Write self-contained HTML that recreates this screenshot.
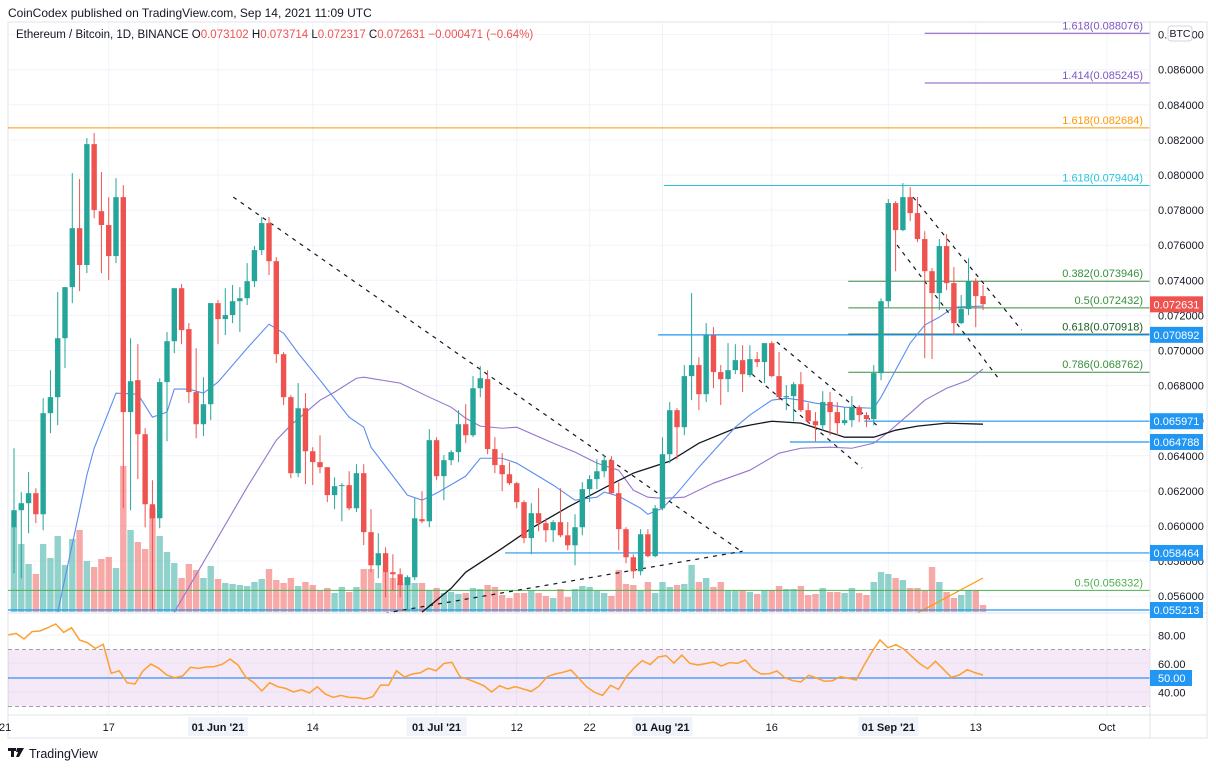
<!DOCTYPE html>
<html><head><meta charset="utf-8"><style>
body{margin:0;background:#fff;font-family:"Liberation Sans",sans-serif;}
svg{display:block}
text{font-family:"Liberation Sans",sans-serif;}
</style></head><body>
<svg id="c" width="1216" height="768" viewBox="0 0 1216 768" xmlns="http://www.w3.org/2000/svg">
<defs>
<clipPath id="pc"><rect x="8" y="22" width="1142" height="591"/></clipPath>
<clipPath id="rc"><rect x="8" y="614" width="1142" height="101"/></clipPath>
</defs>
<text x="8" y="17" font-size="12" fill="#131722">CoinCodex published on TradingView.com, Sep 14, 2021 11:09 UTC</text>
<rect x="8" y="22" width="1199" height="716" fill="none" stroke="#e0e3eb"/>
<g id="grid"></g>
<g id="pane" clip-path="url(#pc)"></g>
<g id="rsi" clip-path="url(#rc)"></g>
<g id="axes"></g>
<text x="16" y="38" font-size="11.5" fill="#131722">Ethereum / Bitcoin, 1D, BINANCE  <tspan>O</tspan><tspan fill="#ef5350">0.073102</tspan>  H<tspan fill="#ef5350">0.073714</tspan>  L<tspan fill="#ef5350">0.072317</tspan>  C<tspan fill="#ef5350">0.072631  −0.000471 (−0.64%)</tspan></text>
<g>
<rect x="8" y="748" width="8" height="3" fill="#131722"/>
<rect x="11" y="748" width="3" height="9" fill="#131722"/>
<polygon points="17,748 24,748 19,757 16,757 18,752 16,752" fill="#131722"/>
</g>
<text x="29" y="758" font-size="12.5" fill="#131722">TradingView</text>
</svg>
<script>
// ---- data (prices in mBTC, i.e. x0.001 BTC) ----
const opens=[59.93,60.90,61.30,61.87,60.67,66.43,67.34,70.70,73.61,76.97,74.87,81.76,77.94,77.15,75.38,78.74,66.49,68.31,65.23,61.24,60.44,68.20,70.53,73.55,71.22,67.63,65.80,66.94,72.70,71.79,72.02,72.81,72.98,
73.95,75.72,77.26,75.09,69.79,67.34,63.01,66.71,64.26,63.64,63.35,61.76,62.27,62.33,61.01,63.01,59.65,57.76,58.45,57.37,57.25,56.63,57.08,60.39,60.27,64.89,62.84,63.75,64.21,65.80,65.17,67.85,68.37,64.38,
63.47,62.95,62.44,61.36,59.31,60.73,60.16,59.76,60.22,59.47,58.90,59.93,62.10,62.67,63.12,63.75,61.87,59.82,58.22,57.42,59.53,58.28,61.01,64.09,66.60,65.63,68.54,69.17,67.51,70.87,68.77,68.37,68.88,69.45,
68.60,69.51,69.34,70.42,68.54,67.34,67.40,68.08,66.60,65.97,65.74,67.06,66.49,65.86,66.03,66.77,66.32,66.09,68.71,72.81,78.40,76.86,78.74,77.83,76.35,74.52,73.27,75.95,73.84,71.56,72.36,73.95,73.10];
const highs=[64.43,61.93,63.07,62.15,67.28,68.88,73.33,73.61,80.11,79.77,82.11,82.39,80.17,78.74,79.82,79.42,70.70,70.36,65.57,62.61,68.42,71.05,73.55,73.78,71.56,70.13,68.48,72.70,72.87,73.55,73.73,73.61,74.98,
75.95,77.60,77.60,75.32,69.91,67.46,68.14,67.57,64.49,65.17,63.35,62.78,62.44,63.12,63.52,63.52,60.96,59.59,58.79,58.39,57.59,57.19,61.58,61.98,65.52,65.06,64.04,64.32,66.60,66.94,68.54,69.11,68.88,65.06,
64.15,63.64,62.50,61.47,61.30,62.15,60.44,60.33,62.15,60.22,60.67,62.50,62.89,63.81,64.04,63.98,62.50,59.93,58.39,59.82,59.82,61.19,65.06,67.06,66.71,69.17,73.27,69.62,71.56,71.33,69.17,70.42,70.36,70.30,
70.30,69.91,70.42,70.53,69.91,68.03,68.20,68.77,67.00,66.49,67.68,67.63,67.06,66.77,67.40,66.89,66.49,69.17,72.98,78.63,78.51,79.54,79.31,78.74,76.80,74.69,76.35,76.63,74.75,73.16,75.26,74.12,73.73];
const lows=[57.31,57.02,59.59,60.16,59.76,65.29,65.75,69.00,72.70,73.38,74.41,77.54,74.41,74.01,74.98,61.01,60.90,62.67,59.93,55.20,59.87,64.83,69.85,70.36,67.00,65.00,65.12,66.03,70.36,70.88,71.56,71.05,72.59,
73.61,75.44,74.30,69.28,66.89,62.72,62.78,62.38,62.33,63.01,61.36,60.96,60.27,60.90,60.79,58.91,57.37,57.02,55.94,56.34,55.94,55.20,56.91,60.16,59.93,62.61,61.47,63.47,63.64,64.72,65.06,67.34,64.09,63.01,
61.98,62.33,61.01,59.02,58.39,59.70,59.08,59.08,59.36,58.62,57.76,59.47,61.36,62.10,62.78,61.81,58.62,57.88,57.02,57.19,58.22,58.22,60.90,63.58,63.81,65.17,67.17,66.60,67.06,67.85,66.89,67.63,68.65,67.63,
68.48,69.05,68.14,68.48,67.17,66.60,65.97,66.49,65.86,64.83,65.46,65.17,65.17,65.74,65.63,65.92,65.63,65.74,68.31,72.47,74.52,76.80,77.37,76.18,69.56,69.51,72.30,73.44,70.87,71.50,72.02,71.33,72.30];
const closes=[60.90,61.30,61.87,60.67,66.43,67.34,70.70,73.61,76.97,74.87,81.76,78.00,77.15,75.38,78.74,66.49,68.25,65.23,61.24,60.44,68.20,70.53,73.55,71.16,67.63,65.80,66.94,72.70,71.79,72.02,72.81,72.98,73.95,
75.72,77.26,75.09,69.79,67.34,63.01,66.71,64.26,63.64,63.35,61.76,62.27,62.33,61.01,63.01,59.65,57.76,58.45,57.37,57.25,56.63,57.08,60.44,60.27,64.89,62.84,63.75,64.21,65.80,65.17,67.85,68.42,64.38,63.47,
62.95,62.44,61.36,59.31,60.73,60.16,59.76,60.22,59.47,58.90,59.93,62.10,62.67,63.12,63.75,61.87,59.82,58.22,57.42,59.53,58.28,61.01,64.09,66.60,65.63,68.54,69.17,67.51,70.87,68.77,68.37,68.88,69.45,68.65,
69.51,69.34,70.42,68.54,67.34,67.40,68.08,66.60,65.97,65.74,67.06,66.49,65.86,66.03,66.77,66.32,66.09,68.71,72.81,78.40,76.86,78.74,77.83,76.35,74.52,73.27,75.95,73.84,71.56,72.36,73.95,73.10,72.64];
const volumes=[85,68,48,38,68,54,76,47,73,82,51,45,53,55,44,146,82,70,63,104,76,60,49,34,48,42,34,46,33,29,28,27,26,
30,33,43,32,29,34,26,30,27,21,24,19,25,20,25,43,43,29,40,34,29,35,29,29,22,24,19,20,18,19,24,23,27,25,
17,14,19,19,22,19,16,14,23,15,23,26,25,21,19,16,42,28,27,21,30,19,30,25,27,28,47,30,34,25,30,22,22,22,
20,18,22,22,26,23,23,26,17,18,24,20,20,19,24,19,17,30,40,38,34,32,24,24,21,45,30,20,14,17,22,22,7];
const maBlue=[[7,55.09],[10,60.90],[11,62.90],[12,64.43],[15,67.57],[18,67.51],[20,66.20],[22,66.49],[23,67.80],[25,67.80],[27,67.57],[29,68.20],[33,70.13],[36,71.50],[38,70.99],[40,69.85],[43,68.31],[47,66.20],[49,65.63],[50,64.49],[55,61.76],[57,61.47],[59,61.87],[63,62.84],[65,63.86],[68,63.86],[70,63.58],[75,62.33],[78,61.47],[81,61.64],[82,61.93],[84,61.70],[87,61.01],[88,60.67],[90,61.01],[92,61.87],[95,63.35],[98,64.72],[100,65.63],[102,66.32],[105,67.17],[107,67.28],[109,67.17],[111,67.00],[115,66.77],[119,66.71],[120,67.34],[122,68.88],[124,70.42],[126,71.45],[128,71.90],[130,72.47],[134,72.53]];
const maPurple=[[23,55.09],[33,62.21],[37,64.89],[39,65.75],[43,67.17],[45,67.63],[48,68.42],[49,68.48],[54,68.14],[58,67.34],[61,66.77],[63,66.14],[65,65.69],[68,65.57],[70,65.63],[75,64.72],[78,64.21],[81,63.58],[84,63.18],[86,62.04],[88,61.64],[90,61.58],[93,61.64],[97,62.44],[102,63.18],[106,64.15],[109,64.43],[113,64.49],[116,64.43],[119,64.72],[121,65.35],[124,66.43],[126,67.17],[129,67.85],[132,68.31],[134,68.94]];
const maBlack=[[57,55.09],[61,56.45],[63,57.37],[68,58.73],[72,59.87],[77,61.07],[83,62.38],[86,63.01],[91,63.69],[95,64.72],[100,65.57],[102,65.75],[105,65.97],[109,65.86],[112,65.46],[115,65.06],[119,65.06],[122,65.46],[125,65.69],[129,65.86],[134,65.80]];
const volMA=[[125,-1],[134,34]];
const rsiValues=[80.2,81.3,77.4,82.5,83.0,85.3,87.9,82.0,85.3,76.7,74.8,70.8,73.6,53.3,55.1,46.7,45.8,54.9,59.8,56.8,52.1,50.2,51.4,57.5,56.8,57.7,58.0,59.6,63.3,59.1,50.5,46.7,40.9,46.7,43.9,42.7,40.2,41.8,39.5,43.9,38.8,36.4,37.8,36.4,36.2,35.3,36.9,45.1,44.9,55.1,50.7,52.8,53.7,56.8,55.1,60.3,61.0,50.9,49.1,
47.0,44.6,40.2,44.6,42.3,43.9,42.3,40.6,44.4,50.9,52.8,54.0,55.6,49.8,43.7,39.9,37.8,44.9,42.0,50.9,57.3,62.2,59.4,64.7,65.7,60.5,66.1,60.3,59.1,60.1,61.2,58.4,60.8,60.3,62.6,56.1,52.8,53.0,54.9,50.2,48.1,47.2,51.9,50.0,47.7,48.1,50.9,49.8,48.6,59.1,68.5,76.7,71.3,73.4,70.4,65.2,60.1,56.5,61.7,56.1,50.5,52.1,55.8,53.7,52.1];
const priceTicks=[56,58,60,62,64,66,68,70,72,74,76,78,80,82,84,86,88];
const rsiTicks=[80,60,40];
const dateTickDays=[-3,13,28,41,58,69,79,89,104,120,132,150];
const dateTickLabels=["May '21","17","01 Jun '21","14","01 Jul '21","12","22","01 Aug '21","16","01 Sep '21","13","Oct"];
const dateTickMajor=[0,0,1,0,1,0,0,1,0,1,0,0];
const fibLevels=[[88.076,126,"1.618(0.088076)","#7e57c2"],[85.245,126,"1.414(0.085245)","#7e57c2"],[82.684,null,"1.618(0.082684)","#ff9800"],[79.404,90.2,"1.618(0.079404)","#26c6da"],[73.946,115.5,"0.382(0.073946)","#388e3c"],[72.432,115.5,"0.5(0.072432)","#388e3c"],[70.918,115.5,"0.618(0.070918)","#1b5e20"],[68.762,115.5,"0.786(0.068762)","#388e3c"],[56.332,null,"0.5(0.056332)","#4caf50"]];
const supportLevels=[[70.892,89.4],[65.971,117.7],[64.788,107.5],[58.464,68.4],[55.213,null]];
const trendLines=[[[31.1,78.74],[101,58.50]],[[51.9,55.03],[101,58.56]],[[105.7,70.48],[119.4,65.75]],[[102.3,68.65],[117.4,63.30]],[[124.4,78.74],[139.3,71.16]],[[122.2,76.01],[136.3,68.31]]];
const lastPrice=72.631;

const NS="http://www.w3.org/2000/svg";
const xI=i=>14+(i-1)*7.286;
const yP=m=>175+(80-m)*17.55;
const yV=v=>612-v;
const yR=r=>678-(r-50)*1.425;
function mk(tag,attrs,parent){const e=document.createElementNS(NS,tag);for(const k in attrs)e.setAttribute(k,attrs[k]);parent.appendChild(e);return e;}
const grid=document.getElementById('grid'),pane=document.getElementById('pane'),rsiG=document.getElementById('rsi'),axes=document.getElementById('axes');

priceTicks.forEach(t=>{const l=mk('line',{x1:8,x2:1150,y1:yP(t),y2:yP(t),stroke:'#f0f3fa'},grid);

});
[635,663,692].forEach(y=>{const l=mk('line',{x1:8,x2:1150,y1:y,y2:y,stroke:'#f0f3fa'},grid);

});
dateTickDays.forEach(d=>{const x=xI(d+1);const l=mk('line',{x1:x,x2:x,y1:22,y2:715,stroke:'#f0f3fa'},grid);

});

volumes.forEach((v,k)=>{const i=k+1;const up=closes[k]>=opens[k];
const r=mk('rect',{x:xI(i)-3.2,y:yV(v),width:6.4,height:v,fill:up?'rgba(38,166,154,0.5)':'rgba(239,83,80,0.5)'},pane);

});
const vm=mk('polyline',{points:volMA.map(p=>xI(p[0])+','+yV(p[1])).join(' '),fill:'none',stroke:'#ff9800','stroke-width':1.2},pane);



fibLevels.forEach(f=>{const y=yP(f[0]);const x1=f[1]===null?8:xI(f[1]);
const l=mk('line',{x1:x1,x2:1150,y1:y,y2:y,stroke:f[3],'stroke-width':f[3]==='#1b5e20'?1.5:1},pane);


const t=mk('text',{x:1143,y:y-4,'font-size':11,fill:f[3],'text-anchor':'end'},pane);t.textContent=f[2];

});
supportLevels.forEach(s=>{const y=yP(s[0]);const x1=s[1]===null?8:xI(s[1]);
const l=mk('line',{x1:x1,x2:1150,y1:y,y2:y,stroke:'#2196f3','stroke-width':1.2},pane);

});

function maLine(arr,color,name,w){const p=mk('polyline',{points:arr.map(q=>xI(q[0])+','+yP(q[1])).join(' '),fill:'none',stroke:color,'stroke-width':w},pane);

}
maLine(maPurple,'#9575cd','ma-purple-line',1.1);
maLine(maBlack,'#131722','ma-black-line',1.3);
maLine(maBlue,'#5b8def','ma-blue-line',1.1);

trendLines.forEach(t=>{const l=mk('line',{x1:xI(t[0][0]),y1:yP(t[0][1]),x2:xI(t[1][0]),y2:yP(t[1][1]),stroke:'#131722','stroke-width':1.2,'stroke-dasharray':'4 5'},pane);

});

closes.forEach((c,k)=>{const i=k+1,o=opens[k],up=c>=o,col=up?'#26a69a':'#ef5350',x=xI(i);
const w=mk('line',{x1:x,x2:x,y1:yP(highs[k]),y2:yP(lows[k]),stroke:col,'stroke-width':1},pane);


const top=yP(Math.max(o,c)),h=Math.max(1,yP(Math.min(o,c))-top);
const b=mk('rect',{x:x-2.7,y:top,width:5.4,height:h,fill:col},pane);

});

const band=mk('rect',{x:8,y:yR(70),width:1142,height:yR(30)-yR(70),fill:'rgba(156,39,176,0.1)'},rsiG);


[70,30].forEach(v=>{const l=mk('line',{x1:8,x2:1150,y1:yR(v),y2:yR(v),stroke:'#a0a3ad','stroke-dasharray':'4 3'},rsiG);

});
const mid=mk('line',{x1:8,x2:1150,y1:yR(50),y2:yR(50),stroke:'#5b9cf6','stroke-width':1.5},rsiG);


const n=rsiValues.length;
const rl=mk('polyline',{points:rsiValues.map((v,k)=>xI(0.2+k*133.8/(n-1))+','+yR(v)).join(' '),fill:'none',stroke:'#ff9f2e','stroke-width':1.5},rsiG);



[[8,613,1207,613],[8,715,1207,715],[1150,22,1150,738]].forEach(s=>{const l=mk('line',{x1:s[0],y1:s[1],x2:s[2],y2:s[3],stroke:'#e0e3eb'},axes);

});

priceTicks.forEach(t=>{const tx=mk('text',{x:1158,y:yP(t)+4,'font-size':11,fill:'#131722'},axes);tx.textContent=(t/1000).toFixed(6);

});
const bb=mk('rect',{x:1168,y:26,width:24,height:15,rx:3,fill:'#fff',stroke:'#d1d4dc'},axes);


const bt=mk('text',{x:1180,y:37,'font-size':10.5,fill:'#131722','text-anchor':'middle'},axes);bt.textContent='BTC';


function priceBox(m,col,name){const y=yP(m);const r=mk('rect',{x:1150,y:y-8,width:53,height:16,fill:col},axes);


const t=mk('text',{x:1176.5,y:y+4,'font-size':11,fill:'#fff','text-anchor':'middle'},axes);t.textContent=(m/1000).toFixed(6);

}
supportLevels.forEach(s=>priceBox(s[0],'#2196f3','level-price-tag'));
priceBox(lastPrice,'#ef5350','last-price-tag');

rsiTicks.forEach(v=>{const t=mk('text',{x:1158,y:yR(v)+4,'font-size':11,fill:'#131722'},axes);t.textContent=v.toFixed(2);

});
const r50=mk('rect',{x:1150,y:yR(50)-8,width:42,height:16,fill:'#2196f3'},axes);


const r50t=mk('text',{x:1158,y:yR(50)+4,'font-size':11,fill:'#fff'},axes);r50t.textContent='50.00';



dateTickDays.forEach((d,k)=>{const x=xI(d+1);
if(dateTickMajor[k]){const r=mk('rect',{x:x-30,y:717,width:60,height:19,fill:'#f0f3fa'},axes);

}
const t=mk('text',{x:x,y:731,'font-size':11,fill:'#131722','text-anchor':'middle','font-weight':dateTickMajor[k]?'bold':'normal'},axes);t.textContent=dateTickLabels[k];

});
</script>
</body></html>
